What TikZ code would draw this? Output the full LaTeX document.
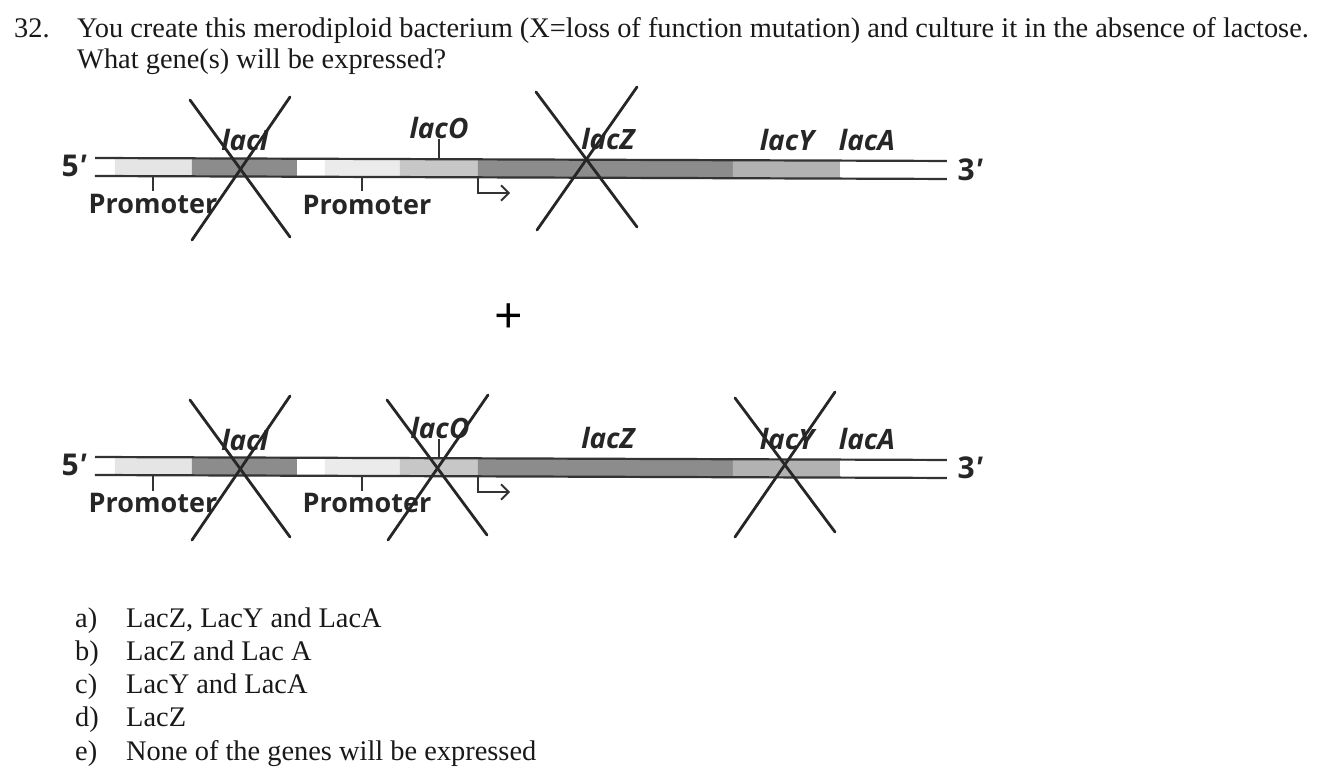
\documentclass[tikz,border=0pt]{standalone}
\usepackage{fontspec}
\setmainfont{Liberation Serif}
\newfontfamily\labelfont{Open Sans}
\usetikzlibrary{arrows.meta,positioning}

\begin{document}
\begin{tikzpicture}[x=1pt,y=-1pt,>={Straight Barb[scale=1.5]},
  q/.style={anchor=base west,inner sep=0pt,font=\fontsize{28.4}{30}\selectfont,text=black!90},
  gene/.style={inner sep=0pt,font=\labelfont\fontsize{28}{30}\selectfont\bfseries\itshape,text=black!85},
  prom/.style={inner sep=0pt,font=\labelfont\fontsize{27}{30}\selectfont\bfseries,text=black!85},
  endm/.style={inner sep=0pt,font=\labelfont\fontsize{30}{30}\selectfont\bfseries,text=black!85},
  strand/.style={line width=2.2pt,black!80},
  tick/.style={line width=1.8pt,black!80},
  cross/.style={line width=2.8pt,black!85,line cap=round}]
  \useasboundingbox (0,0) rectangle (1330,784);
  \node[q] (n32) at (14,38) {32.};
  \node[q] (l1) at (77,38) {You create this merodiploid bacterium (X=loss of function mutation) and culture it in the absence of lactose.};
  \node[q] (l2) at (77,69) {What gene(s) will be expressed?};
  % the two bars
  \foreach \t in {158,457}{
    \begin{scope}[rotate around={-0.2:(95,\t)}]
      \foreach \a/\b/\c in {115/192/black!10,192/297/black!45,325/400/black!8,400/478/black!22,478/733/black!45,733/840/black!30}
        \fill[\c] (\a,\t) rectangle (\b,\t+18);
      \draw[strand] (95,\t) -- (947,\t);
      \draw[strand] (95,\t+18) -- (947,\t+18);
    \end{scope}
  }
  % top construct
  \node[endm] (fivea) at (74,166) {5{\itshape '}};
  \node[endm] (threea) at (970,170) {3{\itshape '}};
  \node[gene] (laca) at (245,140) {lacI};
  \node[gene] (laoa) at (439,128) {lacO};
  \node[gene] (laza) at (608,139) {lacZ};
  \node[gene] (laya) at (787,140) {lacY};
  \node[gene] (lana) at (867,140) {lacA};
  \node[prom] (pa1) at (153,204) {Promoter};
  \node[prom] (pa2) at (367,205) {Promoter};
  \coordinate (ta1) at (153,176);\coordinate (ta2) at (362,176);\coordinate (ta3) at (439,158);
  \draw[tick] (ta1)--(153,191);\draw[tick] (ta2)--(362,191);\draw[tick] (ta3)--(laoa.south -| ta3);
  \coordinate (sa) at (478,177);\coordinate (ea) at (510,193);
  \draw[tick,->] (sa) |- (ea);
  \draw[cross] (190,100)--(290,237);\draw[cross] (290,97)--(192,240);
  \draw[cross] (536,92)--(637,227);\draw[cross] (637,87)--(537,230);
  % plus
  \node[inner sep=0pt,font=\labelfont\fontsize{50}{50}\selectfont] (plus) at (509,319) {+};
  % bottom construct
  \node[endm] (fiveb) at (74,465) {5{\itshape '}};
  \node[endm] (threeb) at (970,468) {3{\itshape '}};
  \node[gene] (lacb) at (245,440) {lacI};
  \node[gene] (laob) at (440,428) {lacO};
  \node[gene] (lazb) at (608,438) {lacZ};
  \node[gene] (layb) at (787,439) {lacY};
  \node[gene] (lanb) at (867,439) {lacA};
  \node[prom] (pb1) at (153,503) {Promoter};
  \node[prom] (pb2) at (367,503) {Promoter};
  \coordinate (tb1) at (153,475);\coordinate (tb2) at (362,475);\coordinate (tb3) at (439,458);
  \draw[tick] (tb1)--(153,491);\draw[tick] (tb2)--(362,491);\draw[tick] (tb3)--(laob.south -| tb3);
  \coordinate (sb) at (478,476);\coordinate (eb) at (510,492);
  \draw[tick,->] (sb) |- (eb);
  \draw[cross] (190,400)--(290,537);\draw[cross] (290,396)--(192,540);
  \draw[cross] (387,400)--(487,535);\draw[cross] (488,395)--(388,540);
  \draw[cross] (735,398)--(835,532);\draw[cross] (835,392)--(735,537);
  % answers
  \foreach \n/\m/\y/\s in {a/a)/627/{LacZ, LacY and LacA},b/b)/660/{LacZ and Lac A},c/c)/693/{LacY and LacA},d/d)/726/{LacZ},e/e)/760/{None of the genes will be expressed}}{
    \node[q] (k\n) at (75,\y) {\m};
    \node[q] (s\n) at (126,\y) {\s};
  }
\end{tikzpicture}
\end{document}
